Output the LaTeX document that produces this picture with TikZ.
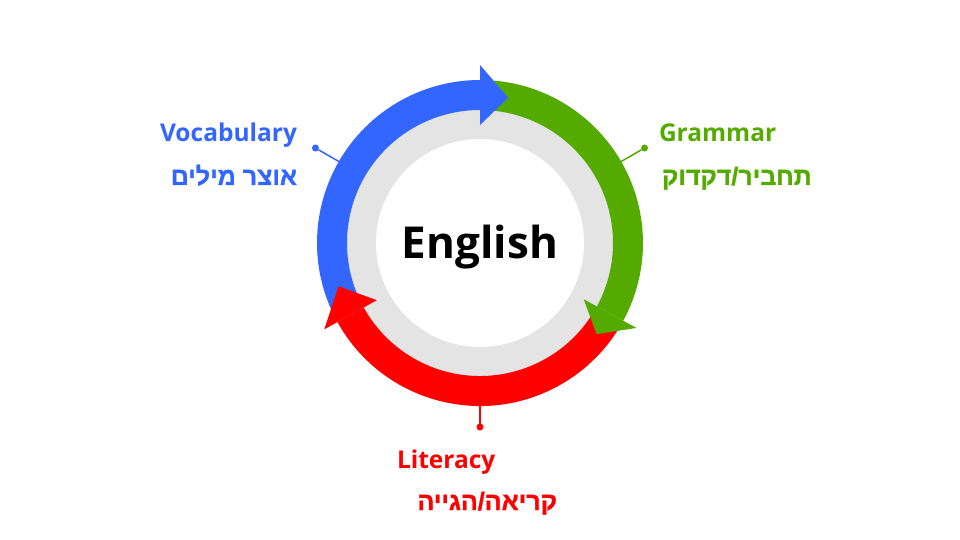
\documentclass[tikz,border=0pt]{standalone}
\usepackage{fontspec}
\setmainfont{Open Sans}
\newfontfamily\hebfont[Script=Hebrew, BoldFeatures={FakeBold=1.2}]{Liberation Sans}
\usetikzlibrary{positioning}
\TeXXeTstate=1

\definecolor{vocblue}{HTML}{3366FF}
\definecolor{gramgreen}{HTML}{55AA00}
\definecolor{litred}{HTML}{FF0000}
\definecolor{ringgrey}{HTML}{E4E4E4}

% arc body of a ring arrow (clockwise from #2 to #3)
\newcommand{\ringbody}[3]{\fill[#1] (#2:133) arc[start angle=#2, end angle=#3, radius=133pt] -- (#3:163) arc[start angle=#3, end angle=#2, radius=163pt] -- cycle;}
% head of a ring arrow (base at #2, tip at #3)
\newcommand{\ringhead}[3]{\fill[#1] (#2:118) -- (#3:148) -- (#2:178) -- cycle;}

\begin{document}
\begin{tikzpicture}[
        x=1pt, y=1pt,
        every node/.style={inner sep=0pt, outer sep=0pt},
        namelabel/.style={font=\fontsize{24.5}{28}\selectfont\bfseries},
        heblabel/.style={font=\hebfont\fontsize{25}{28}\selectfont\bfseries},
        pindot/.style={circle, minimum size=7pt},
        pinline/.style={line width=1.5pt}
    ]
    \useasboundingbox (-480,-297) rectangle (480,243);

    % Callout lines
      \node (vocdot)[pindot, fill=vocblue] at (150:190) {};
      \coordinate (vocring) at (150:160);
      \node (gramdot)[pindot, fill=gramgreen] at (30:190) {};
      \coordinate (gramring) at (30:160);
      \node (litdot)[pindot, fill=litred] at (270:184) {};
      \coordinate (litring) at (270:160);

    \draw[pinline, vocblue] (vocdot) -- (vocring);
    \draw[pinline, gramgreen] (gramdot) -- (gramring);
    \draw[pinline, litred] (litdot) -- (litring);

    % Ring
    \fill[ringgrey] (0,0) circle[radius=134pt];
    \fill[white] (0,0) circle[radius=104pt];

    \ringbody{vocblue}{205}{90}
    \ringbody{gramgreen}{85}{-28.5}
    \ringbody{litred}{-32}{-151}

    \ringhead{vocblue}{90}{79}
    \ringhead{gramgreen}{-28.5}{-38}
    \ringhead{litred}{-151}{-163}

    % Nodes
      \node (english)[font=\fontsize{44}{48}\selectfont\bfseries, anchor=base] at (0,-16) {English};

      \node (vocab)[namelabel, text=vocblue, anchor=base east] at (-183,101) {Vocabulary};
      \node (vocabheb)[heblabel, text=vocblue, anchor=base east] at (-183,58) {\beginR אוצר מילים\endR};

      \node (gram)[namelabel, text=gramgreen, anchor=base west] at (179,101) {Grammar};
      \node (gramheb)[heblabel, text=gramgreen, anchor=base west] at (182,58) {\beginR תחביר/דקדוק\endR};

      \node (lit)[namelabel, text=litred, anchor=base west] at (-83,-225) {Literacy};
      \node (litheb)[heblabel, text=litred, anchor=base east] at (77,-267) {\beginR קריאה/הגייה\endR};

\end{tikzpicture}
\end{document}
